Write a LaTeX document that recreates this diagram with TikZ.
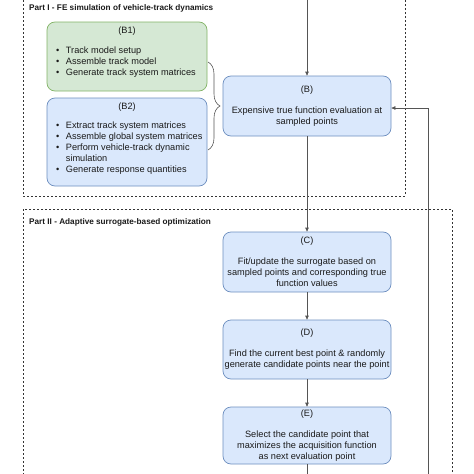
\documentclass[tikz,border=0pt]{standalone}
\usepackage{fontspec}
\setmainfont{Liberation Sans}
\usetikzlibrary{arrows.meta,decorations.pathreplacing,calc}
\definecolor{gfill}{HTML}{D5E8D4}
\definecolor{gline}{HTML}{82B366}
\definecolor{bfill}{HTML}{DAE8FC}
\definecolor{bline}{HTML}{6C8EBF}
\definecolor{arr}{HTML}{555555}
\definecolor{frm}{HTML}{333333}
\definecolor{txt}{HTML}{1A1A1A}
\tikzset{
  bluebox/.style={draw=bline, fill=bfill, rounded corners=8pt, line width=0.7pt, inner sep=0pt},
  greenbox/.style={draw=gline, fill=gfill, rounded corners=8pt, line width=0.7pt, inner sep=0pt},
  bodytext/.style={font=\fontsize{9.2}{11}\selectfont, text=txt},
  titletext/.style={font=\fontsize{8.2}{10}\selectfont\bfseries, text=txt, inner sep=0pt, anchor=west},
  frame/.style={draw=frm, line width=0.8pt, dash pattern=on 2pt off 2pt},
  conn/.style={draw=arr, line width=0.7pt, -{Triangle[length=4pt,width=3.5pt]}},
  plainline/.style={draw=arr, line width=0.7pt},
}
\begin{document}
\begin{tikzpicture}[x=1pt,y=-1pt]
\useasboundingbox (0,0) rectangle (474,474);
% frames
\draw[frame] (23,-20) rectangle (405,196);
\draw[frame] (23,209) rectangle (452,500);
\node[titletext] (t1) at (29,8) {Part I - FE simulation of vehicle-track dynamics};
\node[titletext] (t2) at (29,222) {Part II - Adaptive surrogate-based optimization};
% boxes
\node[greenbox, minimum width=160pt, minimum height=69pt] (b1) at (127,56.5) {};
\node[bluebox, minimum width=160pt, minimum height=88pt] (b2) at (127,142) {};
\node[bodytext, inner sep=0pt] (b1h) at (127,31) {(B1)};
\node[bodytext, inner sep=0pt] (b2h) at (127,107) {(B2)};
\node[bodytext, inner sep=0pt, anchor=west] (b1l) at (56,62) {\begin{tabular}{@{}l@{\hspace{6.5pt}}l@{}}
\textbullet & Track model setup\\
\textbullet & Assemble track model\\
\textbullet & Generate track system matrices
\end{tabular}};
\node[bodytext, inner sep=0pt, anchor=west] (b2l) at (56,148) {\begin{tabular}{@{}l@{\hspace{6.5pt}}l@{}}
\textbullet & Extract track system matrices\\
\textbullet & Assemble global system matrices\\
\textbullet & Perform vehicle-track dynamic\\
 & simulation\\
\textbullet & Generate response quantities
\end{tabular}};
\node[bluebox, bodytext, minimum width=168pt, minimum height=60pt, align=center] (b) at (307,106)
  {(B)\\[10pt]Expensive true function evaluation at\\sampled points};
\node[bluebox, bodytext, minimum width=168pt, minimum height=60pt, align=center] (c) at (307,262)
  {(C)\\[10pt]Fit/update the surrogate based on\\sampled points and corresponding true\\function values};
\node[bluebox, bodytext, minimum width=168pt, minimum height=59pt, align=center] (d) at (307,349.5)
  {(D)\\[10pt]Find the current best point \& randomly\\generate candidate points near the point};
\node[bluebox, bodytext, minimum width=168pt, minimum height=57pt, align=center] (e) at (307,435.5)
  {(E)\\[10pt]Select the candidate point that\\maximizes the acquisition function\\as next evaluation point};
% brace
\coordinate (bt) at (208,62);
\coordinate (bb) at (208,150);
\draw[draw=arr, line width=0.6pt, decorate, decoration={brace, amplitude=12pt}] (bt) -- (bb);
% connectors
\coordinate (topin) at (307,-10);
\coordinate (eout) at (307,490);
\coordinate (fb) at (428,490);
\draw[conn] (topin) -- (b.north);
\draw[conn] (b.south) -- (c.north);
\draw[conn] (c.south) -- (d.north);
\draw[conn] (d.south) -- (e.north);
\draw[plainline] (e.south) -- (eout);
\draw[conn] (fb) |- ($(b.east)+(0,2)$);
\end{tikzpicture}
\end{document}
